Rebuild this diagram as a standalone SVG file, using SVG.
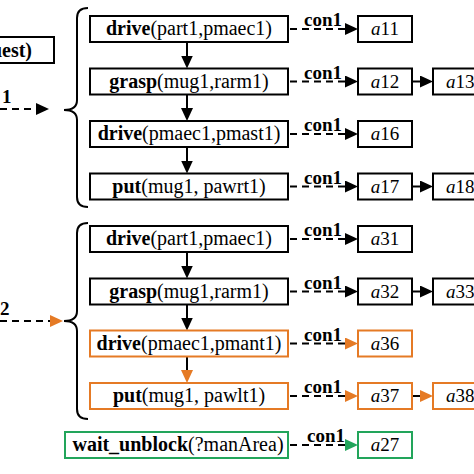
<svg xmlns="http://www.w3.org/2000/svg" width="474" height="474" viewBox="0 0 474 474">
<defs>
<style>
.bx{fill:#fff;stroke:#000;stroke-width:2}
.or{stroke:#E57A25}
.gr{stroke:#22A55B}
.t{font-family:"Liberation Serif",serif;font-size:20px;fill:#000;text-anchor:middle}
.b{font-weight:bold}
.a{font-family:"Liberation Serif",serif;font-size:19px;fill:#000;text-anchor:middle}
.c{font-family:"Liberation Serif",serif;font-size:19px;font-weight:bold;fill:#000}
.ln{stroke:#000;stroke-width:2;fill:none}
.d{stroke-dasharray:7 5}
</style>
<marker id="mk" markerWidth="13" markerHeight="12" refX="5" refY="6" orient="auto" markerUnits="userSpaceOnUse"><path d="M0,0 L13,6 L0,12 Z" fill="#000"/></marker>
<marker id="mo" markerWidth="13" markerHeight="12" refX="5" refY="6" orient="auto" markerUnits="userSpaceOnUse"><path d="M0,0 L13,6 L0,12 Z" fill="#E57A25"/></marker>
<marker id="mg" markerWidth="13" markerHeight="12" refX="5" refY="6" orient="auto" markerUnits="userSpaceOnUse"><path d="M0,0 L13,6 L0,12 Z" fill="#22A55B"/></marker>
</defs>
<rect width="474" height="474" fill="#fff"/>

<g id="request">
<rect class="bx" x="-5" y="37" width="59" height="26"/>
<text class="t b" x="32" y="57" style="text-anchor:end">uest)</text>
</g>

<g id="connectors">
<path class="ln" d="M88,8 Q77,8 77,18 V100 Q77,110 64,110 Q77,110 77,120 V197 Q77,207 88,207"/>
<path class="ln or" d="M88,223 Q77,223 77,233 V311 Q77,321 64,321 Q77,321 77,331 V409 Q77,419 88,419"/>
<line class="ln d" x1="0" y1="109" x2="41" y2="109" marker-end="url(#mk)"/>
<line class="ln d or" x1="0" y1="321" x2="55" y2="321" marker-end="url(#mo)"/>
<text class="c" x="2" y="103">1</text>
<text class="c" x="0" y="315">2</text>

<line class="ln" x1="187" y1="42" x2="187" y2="60.5" marker-end="url(#mk)"/>
<line class="ln" x1="187" y1="94.5" x2="187" y2="113" marker-end="url(#mk)"/>
<line class="ln" x1="187" y1="147" x2="187" y2="165.5" marker-end="url(#mk)"/>
<line class="ln" x1="187" y1="252" x2="187" y2="270.5" marker-end="url(#mk)"/>
<line class="ln" x1="187" y1="304.5" x2="187" y2="322.5" marker-end="url(#mk)"/>
<line class="ln or" x1="187" y1="356.5" x2="187" y2="375" marker-end="url(#mo)"/>

<line class="ln d" x1="290" y1="29" x2="350" y2="29" marker-end="url(#mk)"/>
<line class="ln d" x1="290" y1="81.5" x2="350" y2="81.5" marker-end="url(#mk)"/>
<line class="ln d" x1="290" y1="134" x2="350" y2="134" marker-end="url(#mk)"/>
<line class="ln d" x1="290" y1="186.5" x2="350" y2="186.5" marker-end="url(#mk)"/>
<line class="ln d" x1="290" y1="239" x2="350" y2="239" marker-end="url(#mk)"/>
<line class="ln d" x1="290" y1="291.5" x2="350" y2="291.5" marker-end="url(#mk)"/>
<line class="ln d or" x1="290" y1="343.5" x2="350" y2="343.5" marker-end="url(#mo)"/>
<line class="ln d or" x1="290" y1="396" x2="350" y2="396" marker-end="url(#mo)"/>
<line class="ln d gr" x1="290" y1="445" x2="350" y2="445" marker-end="url(#mg)"/>
<text class="c" x="304" y="26">con1</text>
<text class="c" x="304" y="78.5">con1</text>
<text class="c" x="304" y="131">con1</text>
<text class="c" x="304" y="183.5">con1</text>
<text class="c" x="304" y="236">con1</text>
<text class="c" x="304" y="288.5">con1</text>
<text class="c" x="304" y="340.5">con1</text>
<text class="c" x="304" y="393">con1</text>
<text class="c" x="307" y="442">con1</text>

<line class="ln" x1="412" y1="81.5" x2="425" y2="81.5" marker-end="url(#mk)"/>
<line class="ln" x1="412" y1="186.5" x2="425" y2="186.5" marker-end="url(#mk)"/>
<line class="ln" x1="412" y1="291.5" x2="425" y2="291.5" marker-end="url(#mk)"/>
<line class="ln or" x1="412" y1="396" x2="425" y2="396" marker-end="url(#mo)"/>
</g>

<g id="n1"><rect class="bx" x="90" y="16" width="198" height="26"/><text class="t" x="189" y="35"><tspan class="b">drive</tspan>(part1,pmaec1)</text></g>
<g id="n2"><rect class="bx" x="90" y="68.5" width="198" height="26"/><text class="t" x="189" y="87.5"><tspan class="b">grasp</tspan>(mug1,rarm1)</text></g>
<g id="n3"><rect class="bx" x="90" y="121" width="198" height="26"/><text class="t" x="189" y="140"><tspan class="b">drive</tspan>(pmaec1,pmast1)</text></g>
<g id="n4"><rect class="bx" x="90" y="173.5" width="198" height="26"/><text class="t" x="189" y="192.5"><tspan class="b">put</tspan>(mug1, pawrt1)</text></g>
<g id="n5"><rect class="bx" x="90" y="226" width="198" height="26"/><text class="t" x="189" y="245"><tspan class="b">drive</tspan>(part1,pmaec1)</text></g>
<g id="n6"><rect class="bx" x="90" y="278.5" width="198" height="26"/><text class="t" x="189" y="297.5"><tspan class="b">grasp</tspan>(mug1,rarm1)</text></g>
<g id="n7"><rect class="bx or" x="90" y="330.5" width="198" height="26"/><text class="t" x="189" y="349.5"><tspan class="b">drive</tspan>(pmaec1,pmant1)</text></g>
<g id="n8"><rect class="bx or" x="90" y="383" width="198" height="26"/><text class="t" x="189" y="402"><tspan class="b">put</tspan>(mug1, pawlt1)</text></g>
<g id="n9"><rect class="bx gr" x="65" y="432" width="223" height="26"/><text class="t" x="178" y="451"><tspan class="b">wait_unblock</tspan>(?manArea)</text></g>

<g id="a11"><rect class="bx" x="358" y="16" width="54" height="26"/><text class="a" x="385" y="35"><tspan font-style="italic">a</tspan>11</text></g>
<g id="a12"><rect class="bx" x="358" y="68.5" width="54" height="26"/><text class="a" x="385" y="87.5"><tspan font-style="italic">a</tspan>12</text></g>
<g id="a13"><rect class="bx" x="433" y="68.5" width="60" height="26"/><text class="a" x="446" y="87.5" style="text-anchor:start"><tspan font-style="italic">a</tspan>13</text></g>
<g id="a16"><rect class="bx" x="358" y="121" width="54" height="26"/><text class="a" x="385" y="140"><tspan font-style="italic">a</tspan>16</text></g>
<g id="a17"><rect class="bx" x="358" y="173.5" width="54" height="26"/><text class="a" x="385" y="192.5"><tspan font-style="italic">a</tspan>17</text></g>
<g id="a18"><rect class="bx" x="433" y="173.5" width="60" height="26"/><text class="a" x="446" y="192.5" style="text-anchor:start"><tspan font-style="italic">a</tspan>18</text></g>
<g id="a31"><rect class="bx" x="358" y="226" width="54" height="26"/><text class="a" x="385" y="245"><tspan font-style="italic">a</tspan>31</text></g>
<g id="a32"><rect class="bx" x="358" y="278.5" width="54" height="26"/><text class="a" x="385" y="297.5"><tspan font-style="italic">a</tspan>32</text></g>
<g id="a33"><rect class="bx" x="433" y="278.5" width="60" height="26"/><text class="a" x="446" y="297.5" style="text-anchor:start"><tspan font-style="italic">a</tspan>33</text></g>
<g id="a36"><rect class="bx or" x="358" y="330.5" width="54" height="26"/><text class="a" x="385" y="349.5"><tspan font-style="italic">a</tspan>36</text></g>
<g id="a37"><rect class="bx or" x="358" y="383" width="54" height="26"/><text class="a" x="385" y="402"><tspan font-style="italic">a</tspan>37</text></g>
<g id="a38"><rect class="bx or" x="433" y="383" width="60" height="26"/><text class="a" x="446" y="402" style="text-anchor:start"><tspan font-style="italic">a</tspan>38</text></g>
<g id="a27"><rect class="bx gr" x="358" y="432" width="54" height="26"/><text class="a" x="385" y="451"><tspan font-style="italic">a</tspan>27</text></g>
</svg>
